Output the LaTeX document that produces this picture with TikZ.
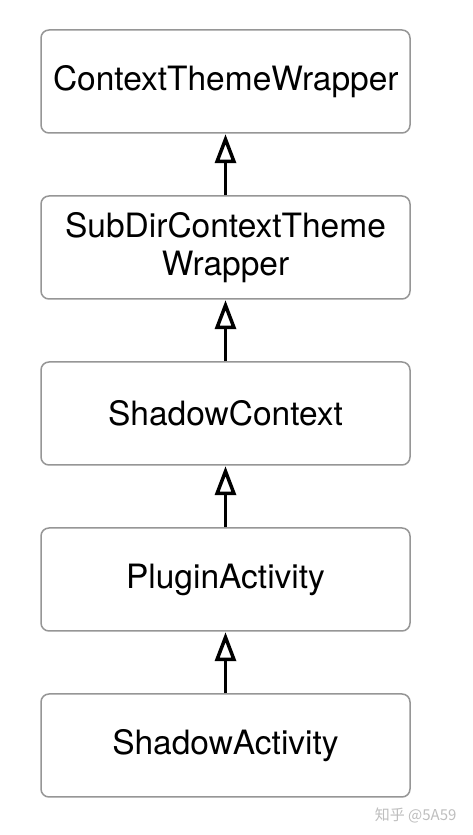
\documentclass[tikz,border=0pt]{standalone}
\usepackage{fontspec}
\setmainfont{TeX Gyre Heros}
\newfontfamily\cjk{Noto Sans CJK SC}
\usetikzlibrary{positioning, arrows.meta}
\definecolor{boxborder}{RGB}{150,150,150}
\definecolor{markgray}{RGB}{190,190,190}
\tikzstyle{classbox} = [rectangle, rounded corners=8pt, minimum width=369pt, minimum height=103pt, draw=boxborder, line width=1.5pt, fill=white, text width=345pt, align=center, font=\fontsize{33.5}{38}\selectfont, inner sep=0pt]
\tikzstyle{inherit} = [line width=3pt, -{Triangle[open, length=29pt, width=21pt, line width=3.5pt]}, shorten >=0.5pt]

\begin{document}
\begin{tikzpicture}[x=1pt, y=1pt]
\useasboundingbox (0,0) rectangle (472,835);
\fill[white] (0,0) rectangle (472,835);
\node (shadowact) [classbox] at (225.5,89.5) {ShadowActivity};
\node (plugin) [classbox, above=61.5pt of shadowact] {PluginActivity};
\node (shadowctx) [classbox, above=61.5pt of plugin] {ShadowContext};
\node (subdir) [classbox, above=61.5pt of shadowctx] {SubDirContextTheme\\Wrapper};
\node (ctxwrap) [classbox, above=61.5pt of subdir] {ContextThemeWrapper};
\draw[inherit] (shadowact) -- (plugin);
\draw[inherit] (plugin) -- (shadowctx);
\draw[inherit] (shadowctx) -- (subdir);
\draw[inherit] (subdir) -- (ctxwrap);
% watermark
\node (mark) [text=markgray, font=\cjk\fontsize{15}{15}\selectfont, anchor=east] at (460,20) {知乎 @5A59};
\end{tikzpicture}
\end{document}
